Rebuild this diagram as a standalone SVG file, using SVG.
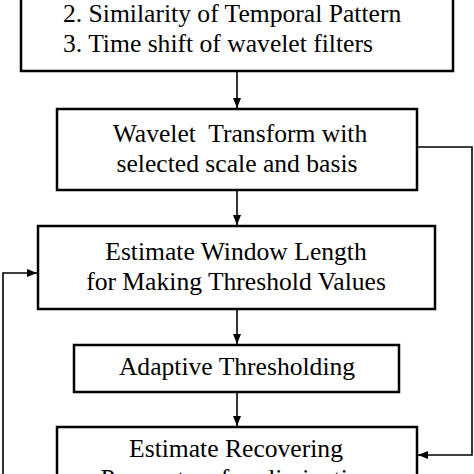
<svg xmlns="http://www.w3.org/2000/svg" width="474" height="474" viewBox="0 0 474 474">
<defs>
<marker id="ah" markerWidth="10" markerHeight="8" refX="10" refY="4" orient="auto" markerUnits="userSpaceOnUse">
<path d="M0,0 L10,4 L0,8 Z" fill="#000"/>
</marker>
<style>
.box{fill:#fff;stroke:#000;stroke-width:2.5}
.t{font-family:'Liberation Serif','DejaVu Serif',serif;font-size:25.6px;fill:#000}
.c{text-anchor:middle}
.ln{fill:none;stroke:#000;stroke-width:1.6}
</style>
</defs>
<rect width="474" height="474" fill="#fff"/>
<g id="connectors">
<line class="ln" x1="237" y1="71" x2="237" y2="108" marker-end="url(#ah)"/>
<line class="ln" x1="237" y1="190" x2="237" y2="225" marker-end="url(#ah)"/>
<line class="ln" x1="237" y1="309" x2="237" y2="344" marker-end="url(#ah)"/>
<line class="ln" x1="237" y1="392" x2="237" y2="426" marker-end="url(#ah)"/>
<polyline class="ln" points="417,147 472,147 472,455 418,455" marker-end="url(#ah)"/>
<polyline class="ln" points="3,480 3,273 37,273" marker-end="url(#ah)"/>
</g>
<g id="n1">
<rect class="box" x="21" y="-20" width="432" height="91"/>
<text class="t" x="63" y="22">2. Similarity of Temporal Pattern</text>
<text class="t" x="63" y="52">3. Time shift of wavelet filters</text>
</g>
<g id="n2">
<rect class="box" x="57" y="109" width="360" height="81"/>
<text class="t c" x="240" y="142" xml:space="preserve">Wavelet  Transform with</text>
<text class="t c" x="237" y="172">selected scale and basis</text>
</g>
<g id="n3">
<rect class="box" x="38" y="226" width="397" height="83"/>
<text class="t c" x="236" y="260">Estimate Window Length</text>
<text class="t c" x="236" y="290">for Making Threshold Values</text>
</g>
<g id="n4">
<rect class="box" x="74" y="345" width="325" height="47"/>
<text class="t c" x="237" y="375">Adaptive Thresholding</text>
</g>
<g id="n5">
<rect class="box" x="57" y="427" width="360" height="80"/>
<text class="t c" x="236" y="457">Estimate Recovering</text>
<text class="t c" x="237" y="487">Parameters for elimination</text>
</g>
</svg>
